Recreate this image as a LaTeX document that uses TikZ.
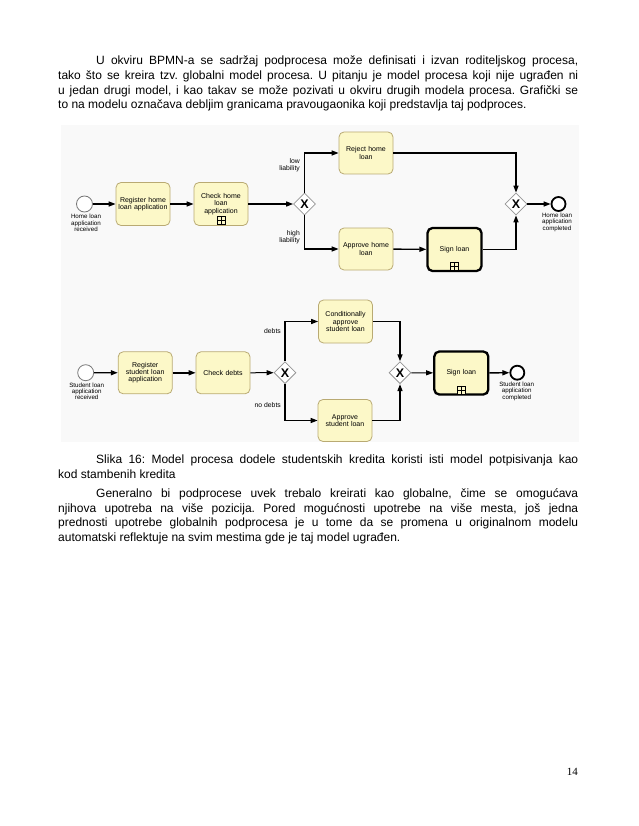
\documentclass[tikz,border=0pt]{standalone}
\usepackage{fontspec}
\setmainfont{Liberation Sans}
\newfontfamily\pagenumfont{Liberation Serif}
\usetikzlibrary{shapes.geometric,arrows.meta}
\definecolor{taskfill}{RGB}{252,248,200}
\definecolor{taskline}{RGB}{185,170,115}
\definecolor{figbg}{RGB}{249,249,249}
\definecolor{evline}{RGB}{120,120,120}
\definecolor{gwline}{RGB}{150,150,150}
\frenchspacing
\tikzset{
 bodyline/.style={anchor=base west, inner sep=0pt, font=\fontsize{12}{14}\selectfont},
 task/.style={rectangle, rounded corners=5pt, draw=taskline, line width=0.8pt, fill=taskfill,
   minimum width=54pt, minimum height=43pt, inner sep=1pt, text width=52pt, align=center,
   font=\fontsize{7}{7.3}\selectfont},
 calltask/.style={task, draw=black, line width=2.3pt},
 gwnode/.style={diamond, draw=gwline, fill=white, line width=0.8pt, minimum width=22pt,
   minimum height=22pt, inner sep=0pt, font=\fontsize{12.5}{12.5}\selectfont\bfseries},
 startev/.style={circle, draw=evline, fill=white, line width=0.8pt, minimum size=16pt, inner sep=0pt},
 endev/.style={circle, draw=black, fill=white, line width=1.8pt, minimum size=14pt, inner sep=0pt},
 evlabel/.style={align=center, inner sep=0pt, font=\fontsize{6.2}{6.4}\selectfont},
 gwlabel/.style={align=right, anchor=east, inner sep=0pt, font=\fontsize{6.8}{7}\selectfont},
 flow/.style={line width=1.4pt, -{Triangle[length=7pt,width=5pt]}},
 thinflow/.style={flow, line width=1pt},
 submark/.style={rectangle, draw=black, line width=0.5pt, minimum size=8pt, inner sep=0pt, fill=taskfill},
}
\begin{document}
\begin{tikzpicture}[x=1pt,y=-1pt]
\useasboundingbox (0,0) rectangle (638,826);
\fill[white] (0,0) rectangle (638,826);

% paragraph 1
\node[bodyline] (p1a) at (96,65) {\makebox[482pt][s]{U okviru BPMN-a se sadržaj podprocesa može definisati i izvan roditeljskog procesa,}};
\node[bodyline] (p1b) at (58,79.6) {\makebox[520pt][s]{tako što se kreira tzv. globalni model procesa. U pitanju je model procesa koji nije ugrađen ni}};
\node[bodyline] (p1c) at (58,94.2) {\makebox[520pt][s]{u jedan drugi model, i kao takav se može pozivati u okviru drugih modela procesa. Grafički se}};
\node[bodyline] (p1d) at (58,108.8) {to na modelu označava debljim granicama pravougaonika koji predstavlja taj podproces.};

% figure background
\fill[figbg] (61,125) rectangle (579,442);

% ---------- top diagram ----------
\node[startev] (s1) at (84.5,204) {};
\node[evlabel] (s1l) at (86,223) {Home loan\\application\\received};
\node[task] (r1) at (143,204) {Register home loan application};
\node[task] (c1) at (221,204) {Check home\\loan\\application};
\node[submark] (c1m) at ([yshift=5.5pt]c1.south) {};
\draw[line width=0.5pt] (c1m.north) -- (c1m.south) (c1m.west) -- (c1m.east);
\node[gwnode] (g1) at (304.5,204) {X};
\node[gwlabel] (g1a) at (300,165) {low\\liability};
\node[gwlabel] (g1b) at (300,237.5) {high\\liability};
\node[task, minimum height=42pt] (rj) at (366,153) {Reject home\\loan};
\node[task, minimum height=42pt] (ap) at (366,249) {Approve home\\loan};
\node[calltask] (sg1) at (454.5,249.5) {Sign loan};
\node[submark] (sg1m) at ([yshift=5.5pt]sg1.south) {};
\draw[line width=0.5pt] (sg1m.north) -- (sg1m.south) (sg1m.west) -- (sg1m.east);
\node[gwnode] (g2) at (516,204) {X};
\node[endev] (e1) at (558.5,204) {};
\node[evlabel] (e1l) at (557,222) {Home loan\\application\\completed};

\draw[flow] (s1) -- (r1);
\draw[flow] (r1) -- (c1);
\draw[flow] (c1) -- (g1);
\draw[flow] (g1.north) |- (rj.west);
\draw[flow] (g1.south) |- (ap.west);
\draw[flow] (ap) -- (sg1);
\draw[flow] (rj.east) -| (g2.north);
\draw[flow] (sg1.east) -| (g2.south);
\draw[flow] (g2) -- (e1);

% ---------- bottom diagram ----------
\node[startev] (s2) at (85.7,372.7) {};
\node[evlabel] (s2l) at (86.7,391.3) {Student loan\\application\\received};
\node[task, minimum height=42pt] (r2) at (145.2,372.8) {Register\\student loan\\application};
\node[task, minimum height=42pt] (c2) at (223,372.8) {Check debts};
\node[gwnode] (g3) at (285,372.7) {X};
\node[gwlabel] (g3a) at (281,331) {debts};
\node[gwlabel] (g3b) at (281,404.7) {no debts};
\node[task] (cd) at (345.5,321.5) {Conditionally\\approve\\student loan};
\node[task, minimum height=42pt] (as) at (345,420.5) {Approve\\student loan};
\node[gwnode] (g4) at (400,372.7) {X};
\node[calltask] (sg2) at (461.3,373) {Sign loan};
\node[submark] (sg2m) at ([yshift=5.5pt]sg2.south) {};
\draw[line width=0.5pt] (sg2m.north) -- (sg2m.south) (sg2m.west) -- (sg2m.east);
\node[endev] (e2) at (517.3,372.7) {};
\node[evlabel] (e2l) at (516.7,391) {Student loan\\application\\completed};

\draw[flow] (s2) -- (r2);
\draw[flow] (r2) -- (c2);
\draw[thinflow] (c2) -- (g3);
\draw[flow] (g3.north) |- (cd.west);
\draw[flow] (g3.south) |- (as.west);
\draw[flow] (cd.east) -| (g4.north);
\draw[flow] (as.east) -| (g4.south);
\draw[thinflow] (g4) -- (sg2);
\draw[flow] (sg2) -- (e2);

% caption
\node[bodyline] (cp1) at (96,463.5) {\makebox[482pt][s]{Slika 16: Model procesa dodele studentskih kredita koristi isti model potpisivanja kao}};
\node[bodyline] (cp2) at (58,478.1) {kod stambenih kredita};

% paragraph 2
\node[bodyline] (p2a) at (96,497.5) {\makebox[482pt][s]{Generalno bi podprocese uvek trebalo kreirati kao globalne, čime se omogućava}};
\node[bodyline] (p2b) at (58,512.1) {\makebox[520pt][s]{njihova upotreba na više pozicija. Pored mogućnosti upotrebe na više mesta, još jedna}};
\node[bodyline] (p2c) at (58,526.7) {\makebox[520pt][s]{prednosti upotrebe globalnih podprocesa je u tome da se promena u originalnom modelu}};
\node[bodyline] (p2d) at (58,541.3) {automatski reflektuje na svim mestima gde je taj model ugrađen.};

% page number
\node[anchor=base east, inner sep=0pt, font=\pagenumfont\fontsize{11}{11}\selectfont] (pg) at (578,775) {14};
\end{tikzpicture}
\end{document}
